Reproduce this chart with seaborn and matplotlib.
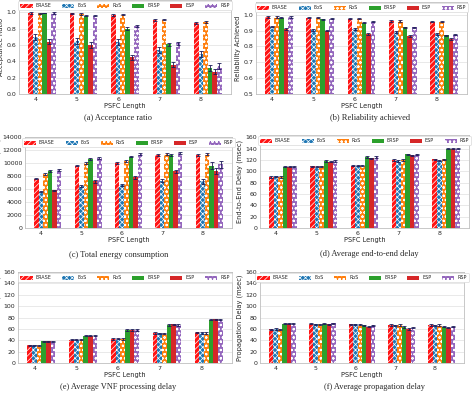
import pandas as pd
import matplotlib.pyplot as plt
import seaborn as sns

lengths = [4, 5, 6, 7, 8]
methods = ["ERASE", "EoS", "RoS", "ERSP", "ESP", "RSP"]
colors = ["#ff1414", "#1f77b4", "#ff7f0e", "#2ca02c", "#d62728", "#9467bd"]
hatches = ["///", "xxx", "oo", "", "", "oo"]

# rows = methods, columns = PSFC length 4..8
acceptance = [[0.99, 0.985, 0.97, 0.90, 0.87],
              [0.70, 0.65, 0.64, 0.54, 0.49],
              [0.99, 0.98, 0.97, 0.91, 0.88],
              [0.99, 0.96, 0.80, 0.61, 0.32],
              [0.64, 0.60, 0.45, 0.36, 0.27],
              [0.99, 0.96, 0.83, 0.62, 0.34]]
acceptance_err = [[0.008, 0.008, 0.01, 0.012, 0.012],
                  [0.035, 0.04, 0.035, 0.04, 0.04],
                  [0.006, 0.008, 0.008, 0.01, 0.01],
                  [0.005, 0.01, 0.015, 0.02, 0.035],
                  [0.03, 0.04, 0.03, 0.03, 0.03],
                  [0.008, 0.01, 0.015, 0.02, 0.04]]

reliability = [[0.985, 0.98, 0.975, 0.96, 0.955],
               [0.925, 0.905, 0.91, 0.89, 0.88],
               [0.985, 0.98, 0.975, 0.96, 0.955],
               [0.98, 0.97, 0.95, 0.92, 0.87],
               [0.91, 0.90, 0.88, 0.865, 0.845],
               [0.985, 0.975, 0.955, 0.92, 0.875]]
reliability_err = [[0.004, 0.004, 0.004, 0.004, 0.004],
                   [0.005, 0.005, 0.005, 0.005, 0.005],
                   [0.004, 0.004, 0.004, 0.004, 0.004],
                   [0.004, 0.004, 0.004, 0.005, 0.005],
                   [0.005, 0.005, 0.005, 0.005, 0.005],
                   [0.004, 0.004, 0.004, 0.005, 0.005]]

energy = [[7600, 9600, 10000, 11200, 11200],
          [5600, 6500, 6600, 7300, 7200],
          [8300, 10000, 10300, 11400, 11400],
          [8800, 10600, 11000, 11200, 9600],
          [5800, 7200, 7800, 8700, 8800],
          [8900, 10800, 11400, 11500, 9800]]
energy_err = [[120, 120, 120, 120, 120],
              [120, 150, 150, 200, 400],
              [120, 120, 120, 120, 150],
              [120, 150, 150, 150, 500],
              [120, 200, 200, 250, 500],
              [120, 150, 150, 150, 500]]

e2e_delay = [[90, 109, 110, 120, 121],
             [91, 108, 110, 118, 119],
             [90, 109, 110, 120, 121],
             [108, 118, 125, 130, 140],
             [108, 117, 123, 128, 140],
             [108, 118, 125, 130, 140]]

proc_delay = [[31, 41, 42, 53, 54],
              [31, 41, 43, 52, 53],
              [31, 41, 42, 52, 53],
              [38, 48, 58, 67, 76],
              [38, 48, 58, 68, 77],
              [38, 48, 58, 67, 76]]

prop_delay = [[59, 69, 68, 67, 67],
              [60, 68, 68, 66, 66],
              [59, 68, 68, 67, 67],
              [69, 69, 66, 63, 64],
              [69, 68, 64, 60, 62],
              [69, 70, 66, 62, 64]]

delay_err = [[1.2] * 5 for _ in methods]

sns.set_theme(style="whitegrid", rc={
    "axes.edgecolor": ".75", "axes.linewidth": 1.2,
    "grid.color": ".88", "grid.linewidth": 1.0,
    "hatch.linewidth": 1.0,
})

# drawn at double size, saved at half dpi -> 474x393 px
fig = plt.figure(figsize=(9.48, 7.86), dpi=50)


def rect(l, r, t, b):
    return [l / 474, 1 - b / 393, (r - l) / 474, (b - t) / 393]


def panel(box, values, errs, ylabel, ylim, yticks, yfmt):
    ax = fig.add_axes(rect(*box))
    df = pd.DataFrame([(m, l, values[i][j])
                       for i, m in enumerate(methods)
                       for j, l in enumerate(lengths)],
                      columns=["method", "length", "value"])
    sns.barplot(data=df, x="length", y="value", hue="method", hue_order=methods,
                palette=colors, width=0.67, saturation=1, errorbar=None,
                legend=False, ax=ax)
    bars = list(ax.containers)
    for cont, h, err in zip(bars, hatches, errs):
        for bar in cont:
            bar.set_hatch(h)
            bar.set_edgecolor("white")
            bar.set_linewidth(0)
        xs = [b.get_x() + b.get_width() / 2 for b in cont]
        ys = [b.get_height() for b in cont]
        ax.errorbar(xs, ys, yerr=err, fmt="none", ecolor="#1c1c5a",
                    elinewidth=1.2, capsize=2.2, capthick=1.2)
    ax.set_xticks([b.get_x() + b.get_width() / 2 for b in bars[1]])
    ax.set_xticklabels(lengths)
    ax.set_xlim(-0.56, 4.56)
    ax.set_ylim(*ylim)
    ax.set_yticks(yticks)
    ax.set_yticklabels([yfmt.format(t) for t in yticks])
    ax.grid(axis="x", visible=False)
    ax.tick_params(labelsize=9, pad=4, length=0)
    ax.set_xlabel("PSFC Length", fontsize=9.6, labelpad=2)
    ax.set_ylabel(ylabel, fontsize=9.6, labelpad=3)
    ax.legend(bars, methods, ncol=6, loc="upper center",
              fontsize=7, handlelength=2.5, handleheight=0.8,
              columnspacing=2.2, handletextpad=0.6, borderaxespad=0.3,
              framealpha=1, edgecolor=".85", fancybox=True)
    return ax


panel((19, 231, 0, 94), acceptance, acceptance_err, "Acceptance Ratio",
      (0, 1.15), [0, 0.2, 0.4, 0.6, 0.8, 1.0], "{:.1f}")
panel((256, 467, 2, 94), reliability, reliability_err, "Reliability Achieved",
      (0.5, 1.08), [0.5, 0.6, 0.7, 0.8, 0.9, 1.0], "{:.1f}")
panel((25, 232, 137, 228), energy, energy_err, "Energy Consumption (Wh)",
      (0, 14000), list(range(0, 14001, 2000)), "{:d}")
panel((260, 469, 135, 228), e2e_delay, delay_err, "End-to-End Delay (msec)",
      (0, 164), list(range(0, 161, 20)), "{:d}")
panel((18, 232, 272, 363), proc_delay, delay_err, "Processing Delay (msec)",
      (0, 160), list(range(0, 161, 20)), "{:d}")
panel((260, 464, 272, 363), prop_delay, delay_err, "Propagation Delay (msec)",
      (0, 160), list(range(0, 161, 20)), "{:d}")

captions = [(118, 118, "(a) Acceptance ratio"),
            (370, 118, "(b) Reliability achieved"),
            (119, 255, "(c) Total energy consumption"),
            (369, 254, "(d) Average end-to-end delay"),
            (118, 387, "(e) Average VNF processing delay"),
            (375, 387, "(f) Average propagation delay")]
for cx, cy, txt in captions:
    fig.text(cx / 474, 1 - cy / 393, txt, ha="center", va="center",
             fontsize=12, family="Liberation Serif")

fig.savefig("out.png", dpi=50)
